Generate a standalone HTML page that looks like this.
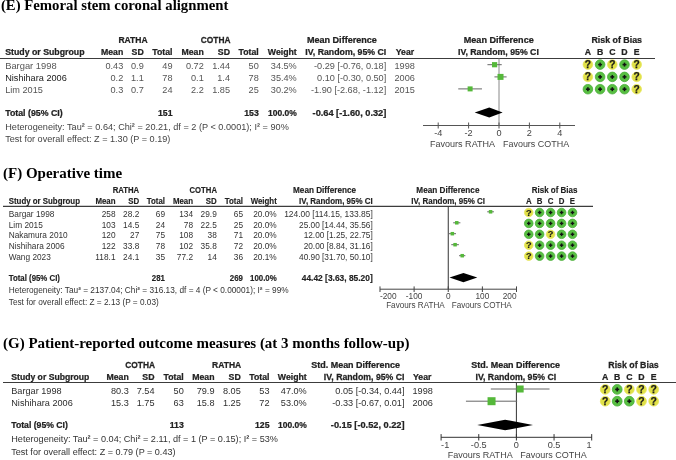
<!DOCTYPE html>
<html><head><meta charset="utf-8"><title>Forest plots</title>
<style>
html,body{margin:0;padding:0;background:#fff;}
body{width:676px;height:460px;overflow:hidden;}
svg{display:block;filter:blur(0.3px);}
</style></head><body>
<svg width="676" height="460" viewBox="0 0 676 460">
<rect width="676" height="460" fill="#fff"/>
<text x="0.90" y="9.80" font-family="Liberation Serif, serif" font-size="14.75" font-weight="bold" fill="#000">(E) Femoral stem coronal alignment</text>
<text transform="translate(133.00 43.10) scale(0.908 1)" font-family="Liberation Sans, sans-serif" font-size="9.4" font-weight="bold" stroke="#222" stroke-width="0.25" text-anchor="middle" fill="#222">RATHA</text>
<text transform="translate(215.60 43.10) scale(0.890 1)" font-family="Liberation Sans, sans-serif" font-size="9.4" font-weight="bold" stroke="#222" stroke-width="0.25" text-anchor="middle" fill="#222">COTHA</text>
<text transform="translate(341.90 43.10) scale(0.965 1)" font-family="Liberation Sans, sans-serif" font-size="9.4" font-weight="bold" stroke="#222" stroke-width="0.25" text-anchor="middle" fill="#222">Mean Difference</text>
<text transform="translate(498.75 43.10) scale(0.965 1)" font-family="Liberation Sans, sans-serif" font-size="9.4" font-weight="bold" stroke="#222" stroke-width="0.25" text-anchor="middle" fill="#222">Mean Difference</text>
<text transform="translate(5.20 55.30) scale(0.934 1)" font-family="Liberation Sans, sans-serif" font-size="9.4" font-weight="bold" stroke="#222" stroke-width="0.25" fill="#222">Study or Subgroup</text>
<text transform="translate(123.25 55.30) scale(0.930 1)" font-family="Liberation Sans, sans-serif" font-size="9.4" font-weight="bold" stroke="#222" stroke-width="0.25" text-anchor="end" fill="#222">Mean</text>
<text transform="translate(143.75 55.30) scale(0.930 1)" font-family="Liberation Sans, sans-serif" font-size="9.4" font-weight="bold" stroke="#222" stroke-width="0.25" text-anchor="end" fill="#222">SD</text>
<text transform="translate(172.50 55.30) scale(0.930 1)" font-family="Liberation Sans, sans-serif" font-size="9.4" font-weight="bold" stroke="#222" stroke-width="0.25" text-anchor="end" fill="#222">Total</text>
<text transform="translate(203.75 55.30) scale(0.930 1)" font-family="Liberation Sans, sans-serif" font-size="9.4" font-weight="bold" stroke="#222" stroke-width="0.25" text-anchor="end" fill="#222">Mean</text>
<text transform="translate(230.00 55.30) scale(0.930 1)" font-family="Liberation Sans, sans-serif" font-size="9.4" font-weight="bold" stroke="#222" stroke-width="0.25" text-anchor="end" fill="#222">SD</text>
<text transform="translate(258.75 55.30) scale(0.930 1)" font-family="Liberation Sans, sans-serif" font-size="9.4" font-weight="bold" stroke="#222" stroke-width="0.25" text-anchor="end" fill="#222">Total</text>
<text transform="translate(296.75 55.30) scale(0.930 1)" font-family="Liberation Sans, sans-serif" font-size="9.4" font-weight="bold" stroke="#222" stroke-width="0.25" text-anchor="end" fill="#222">Weight</text>
<text transform="translate(386.25 55.30) scale(0.932 1)" font-family="Liberation Sans, sans-serif" font-size="9.4" font-weight="bold" stroke="#222" stroke-width="0.25" text-anchor="end" fill="#222">IV, Random, 95% CI</text>
<text transform="translate(395.75 55.30) scale(0.930 1)" font-family="Liberation Sans, sans-serif" font-size="9.4" font-weight="bold" stroke="#222" stroke-width="0.25" fill="#222">Year</text>
<text transform="translate(498.40 55.30) scale(0.932 1)" font-family="Liberation Sans, sans-serif" font-size="9.4" font-weight="bold" stroke="#222" stroke-width="0.25" text-anchor="middle" fill="#222">IV, Random, 95% CI</text>
<line x1="0" y1="58.5" x2="655" y2="58.5" stroke="#3c3c3c" stroke-width="1.1"/>
<text transform="translate(5.20 69.10) scale(0.995 1)" font-family="Liberation Sans, sans-serif" font-size="9.4" fill="#555">Bargar 1998</text>
<text transform="translate(123.25 69.10) scale(0.975 1)" font-family="Liberation Sans, sans-serif" font-size="9.4" text-anchor="end" fill="#555">0.43</text>
<text transform="translate(143.75 69.10) scale(0.975 1)" font-family="Liberation Sans, sans-serif" font-size="9.4" text-anchor="end" fill="#555">0.9</text>
<text transform="translate(172.50 69.10) scale(0.975 1)" font-family="Liberation Sans, sans-serif" font-size="9.4" text-anchor="end" fill="#555">49</text>
<text transform="translate(203.75 69.10) scale(0.975 1)" font-family="Liberation Sans, sans-serif" font-size="9.4" text-anchor="end" fill="#555">0.72</text>
<text transform="translate(230.00 69.10) scale(0.975 1)" font-family="Liberation Sans, sans-serif" font-size="9.4" text-anchor="end" fill="#555">1.44</text>
<text transform="translate(258.75 69.10) scale(0.975 1)" font-family="Liberation Sans, sans-serif" font-size="9.4" text-anchor="end" fill="#555">50</text>
<text transform="translate(296.75 69.10) scale(0.975 1)" font-family="Liberation Sans, sans-serif" font-size="9.4" text-anchor="end" fill="#555">34.5%</text>
<text transform="translate(386.25 69.10) scale(0.975 1)" font-family="Liberation Sans, sans-serif" font-size="9.4" text-anchor="end" fill="#555">-0.29 [-0.76, 0.18]</text>
<text transform="translate(394.50 69.10) scale(0.975 1)" font-family="Liberation Sans, sans-serif" font-size="9.4" fill="#555">1998</text>
<text transform="translate(5.20 81.00) scale(0.975 1)" font-family="Liberation Sans, sans-serif" font-size="9.4" fill="#1a1a1a">Nishihara 2006</text>
<text transform="translate(123.25 81.00) scale(0.975 1)" font-family="Liberation Sans, sans-serif" font-size="9.4" text-anchor="end" fill="#555">0.2</text>
<text transform="translate(143.75 81.00) scale(0.975 1)" font-family="Liberation Sans, sans-serif" font-size="9.4" text-anchor="end" fill="#555">1.1</text>
<text transform="translate(172.50 81.00) scale(0.975 1)" font-family="Liberation Sans, sans-serif" font-size="9.4" text-anchor="end" fill="#555">78</text>
<text transform="translate(203.75 81.00) scale(0.975 1)" font-family="Liberation Sans, sans-serif" font-size="9.4" text-anchor="end" fill="#555">0.1</text>
<text transform="translate(230.00 81.00) scale(0.975 1)" font-family="Liberation Sans, sans-serif" font-size="9.4" text-anchor="end" fill="#555">1.4</text>
<text transform="translate(258.75 81.00) scale(0.975 1)" font-family="Liberation Sans, sans-serif" font-size="9.4" text-anchor="end" fill="#555">78</text>
<text transform="translate(296.75 81.00) scale(0.975 1)" font-family="Liberation Sans, sans-serif" font-size="9.4" text-anchor="end" fill="#555">35.4%</text>
<text transform="translate(386.25 81.00) scale(0.975 1)" font-family="Liberation Sans, sans-serif" font-size="9.4" text-anchor="end" fill="#555">0.10 [-0.30, 0.50]</text>
<text transform="translate(394.50 81.00) scale(0.975 1)" font-family="Liberation Sans, sans-serif" font-size="9.4" fill="#555">2006</text>
<text transform="translate(5.20 93.10) scale(0.975 1)" font-family="Liberation Sans, sans-serif" font-size="9.4" fill="#555">Lim 2015</text>
<text transform="translate(123.25 93.10) scale(0.975 1)" font-family="Liberation Sans, sans-serif" font-size="9.4" text-anchor="end" fill="#555">0.3</text>
<text transform="translate(143.75 93.10) scale(0.975 1)" font-family="Liberation Sans, sans-serif" font-size="9.4" text-anchor="end" fill="#555">0.7</text>
<text transform="translate(172.50 93.10) scale(0.975 1)" font-family="Liberation Sans, sans-serif" font-size="9.4" text-anchor="end" fill="#555">24</text>
<text transform="translate(203.75 93.10) scale(0.975 1)" font-family="Liberation Sans, sans-serif" font-size="9.4" text-anchor="end" fill="#555">2.2</text>
<text transform="translate(230.00 93.10) scale(0.975 1)" font-family="Liberation Sans, sans-serif" font-size="9.4" text-anchor="end" fill="#555">1.85</text>
<text transform="translate(258.75 93.10) scale(0.975 1)" font-family="Liberation Sans, sans-serif" font-size="9.4" text-anchor="end" fill="#555">25</text>
<text transform="translate(296.75 93.10) scale(0.975 1)" font-family="Liberation Sans, sans-serif" font-size="9.4" text-anchor="end" fill="#555">30.2%</text>
<text transform="translate(386.25 93.10) scale(0.975 1)" font-family="Liberation Sans, sans-serif" font-size="9.4" text-anchor="end" fill="#555">-1.90 [-2.68, -1.12]</text>
<text transform="translate(394.50 93.10) scale(0.975 1)" font-family="Liberation Sans, sans-serif" font-size="9.4" fill="#555">2015</text>
<text transform="translate(5.20 116.30) scale(0.936 1)" font-family="Liberation Sans, sans-serif" font-size="9.4" font-weight="bold" stroke="#222" stroke-width="0.25" fill="#222">Total (95% CI)</text>
<text transform="translate(172.50 116.30) scale(0.930 1)" font-family="Liberation Sans, sans-serif" font-size="9.4" font-weight="bold" stroke="#222" stroke-width="0.25" text-anchor="end" fill="#222">151</text>
<text transform="translate(258.75 116.30) scale(0.930 1)" font-family="Liberation Sans, sans-serif" font-size="9.4" font-weight="bold" stroke="#222" stroke-width="0.25" text-anchor="end" fill="#222">153</text>
<text transform="translate(296.75 116.30) scale(0.902 1)" font-family="Liberation Sans, sans-serif" font-size="9.4" font-weight="bold" stroke="#222" stroke-width="0.25" text-anchor="end" fill="#222">100.0%</text>
<text transform="translate(386.25 116.30) scale(0.980 1)" font-family="Liberation Sans, sans-serif" font-size="9.4" font-weight="bold" stroke="#222" stroke-width="0.25" text-anchor="end" fill="#222">-0.64 [-1.60, 0.32]</text>
<text transform="translate(5.20 130.00) scale(0.974 1)" font-family="Liberation Sans, sans-serif" font-size="9.4" fill="#444">Heterogeneity: Tau<tspan font-weight="bold">²</tspan> = 0.64; Chi<tspan font-weight="bold">²</tspan> = 20.21, df = 2 (P &lt; 0.0001); I<tspan font-weight="bold">²</tspan> = 90%</text>
<text transform="translate(5.20 142.00) scale(0.969 1)" font-family="Liberation Sans, sans-serif" font-size="9.4" fill="#444">Test for overall effect: Z = 1.30 (P = 0.19)</text>
<line x1="423.0" y1="125.5" x2="575.0" y2="125.5" stroke="#555" stroke-width="1"/>
<line x1="499.0" y1="58.5" x2="499.0" y2="125.5" stroke="#888" stroke-width="1"/>
<line x1="438.2" y1="122.5" x2="438.2" y2="128.5" stroke="#555" stroke-width="1"/>
<text transform="translate(438.20 135.60) scale(0.975 1)" font-family="Liberation Sans, sans-serif" font-size="9.4" text-anchor="middle" fill="#444">-4</text>
<line x1="468.6" y1="122.5" x2="468.6" y2="128.5" stroke="#555" stroke-width="1"/>
<text transform="translate(468.60 135.60) scale(0.975 1)" font-family="Liberation Sans, sans-serif" font-size="9.4" text-anchor="middle" fill="#444">-2</text>
<line x1="499.0" y1="122.5" x2="499.0" y2="128.5" stroke="#555" stroke-width="1"/>
<text transform="translate(499.00 135.60) scale(0.975 1)" font-family="Liberation Sans, sans-serif" font-size="9.4" text-anchor="middle" fill="#444">0</text>
<line x1="529.4" y1="122.5" x2="529.4" y2="128.5" stroke="#555" stroke-width="1"/>
<text transform="translate(529.40 135.60) scale(0.975 1)" font-family="Liberation Sans, sans-serif" font-size="9.4" text-anchor="middle" fill="#444">2</text>
<line x1="559.8" y1="122.5" x2="559.8" y2="128.5" stroke="#555" stroke-width="1"/>
<text transform="translate(559.80 135.60) scale(0.975 1)" font-family="Liberation Sans, sans-serif" font-size="9.4" text-anchor="middle" fill="#444">4</text>
<text transform="translate(495.00 146.80) scale(0.960 1)" font-family="Liberation Sans, sans-serif" font-size="9.4" text-anchor="end" fill="#444">Favours RATHA</text>
<text transform="translate(503.00 146.80) scale(0.953 1)" font-family="Liberation Sans, sans-serif" font-size="9.4" fill="#444">Favours COTHA</text>
<line x1="487.448" y1="64.7" x2="501.736" y2="64.7" stroke="#666" stroke-width="1"/>
<rect x="491.99" y="62.10" width="5.2" height="5.2" fill="#55b83a"/>
<line x1="494.44" y1="76.9" x2="506.6" y2="76.9" stroke="#666" stroke-width="1"/>
<rect x="497.52" y="73.90" width="6" height="6" fill="#55b83a"/>
<line x1="458.264" y1="88.9" x2="481.976" y2="88.9" stroke="#666" stroke-width="1"/>
<rect x="467.62" y="86.40" width="5" height="5" fill="#55b83a"/>
<polygon points="474.68,112.4 489.27,107.4 502.65,112.4 489.27,117.4" fill="#000"/>
<text transform="translate(616.70 43.10) scale(0.940 1)" font-family="Liberation Sans, sans-serif" font-size="9.4" font-weight="bold" stroke="#222" stroke-width="0.25" text-anchor="middle" fill="#222">Risk of Bias</text>
<text transform="translate(587.90 55.30) scale(0.930 1)" font-family="Liberation Sans, sans-serif" font-size="9.4" font-weight="bold" stroke="#222" stroke-width="0.25" text-anchor="middle" fill="#222">A</text>
<text transform="translate(600.10 55.30) scale(0.930 1)" font-family="Liberation Sans, sans-serif" font-size="9.4" font-weight="bold" stroke="#222" stroke-width="0.25" text-anchor="middle" fill="#222">B</text>
<text transform="translate(612.30 55.30) scale(0.930 1)" font-family="Liberation Sans, sans-serif" font-size="9.4" font-weight="bold" stroke="#222" stroke-width="0.25" text-anchor="middle" fill="#222">C</text>
<text transform="translate(624.50 55.30) scale(0.930 1)" font-family="Liberation Sans, sans-serif" font-size="9.4" font-weight="bold" stroke="#222" stroke-width="0.25" text-anchor="middle" fill="#222">D</text>
<text transform="translate(636.70 55.30) scale(0.930 1)" font-family="Liberation Sans, sans-serif" font-size="9.4" font-weight="bold" stroke="#222" stroke-width="0.25" text-anchor="middle" fill="#222">E</text>
<circle cx="587.9" cy="64.6" r="4.80" fill="#e1e147" stroke="#e6e660" stroke-width="0.8"/>
<text x="587.90" y="68.11" font-family="Liberation Sans, sans-serif" font-size="10.19" font-weight="bold" stroke="#1a1a1a" stroke-width="0.25" text-anchor="middle" fill="#1a1a1a">?</text>
<circle cx="600.1" cy="64.6" r="4.80" fill="#58bf42" stroke="#4aad3a" stroke-width="0.8"/>
<rect x="598.12" y="63.82" width="3.95" height="1.56" fill="#111"/>
<rect x="599.32" y="62.62" width="1.56" height="3.95" fill="#111"/>
<circle cx="612.3" cy="64.6" r="4.80" fill="#e1e147" stroke="#e6e660" stroke-width="0.8"/>
<text x="612.30" y="68.11" font-family="Liberation Sans, sans-serif" font-size="10.19" font-weight="bold" stroke="#1a1a1a" stroke-width="0.25" text-anchor="middle" fill="#1a1a1a">?</text>
<circle cx="624.5" cy="64.6" r="4.80" fill="#58bf42" stroke="#4aad3a" stroke-width="0.8"/>
<rect x="622.52" y="63.82" width="3.95" height="1.56" fill="#111"/>
<rect x="623.72" y="62.62" width="1.56" height="3.95" fill="#111"/>
<circle cx="636.7" cy="64.6" r="4.80" fill="#e1e147" stroke="#e6e660" stroke-width="0.8"/>
<text x="636.70" y="68.11" font-family="Liberation Sans, sans-serif" font-size="10.19" font-weight="bold" stroke="#1a1a1a" stroke-width="0.25" text-anchor="middle" fill="#1a1a1a">?</text>
<circle cx="587.9" cy="76.9" r="4.80" fill="#e1e147" stroke="#e6e660" stroke-width="0.8"/>
<text x="587.90" y="80.41" font-family="Liberation Sans, sans-serif" font-size="10.19" font-weight="bold" stroke="#1a1a1a" stroke-width="0.25" text-anchor="middle" fill="#1a1a1a">?</text>
<circle cx="600.1" cy="76.9" r="4.80" fill="#58bf42" stroke="#4aad3a" stroke-width="0.8"/>
<rect x="598.12" y="76.12" width="3.95" height="1.56" fill="#111"/>
<rect x="599.32" y="74.92" width="1.56" height="3.95" fill="#111"/>
<circle cx="612.3" cy="76.9" r="4.80" fill="#58bf42" stroke="#4aad3a" stroke-width="0.8"/>
<rect x="610.32" y="76.12" width="3.95" height="1.56" fill="#111"/>
<rect x="611.52" y="74.92" width="1.56" height="3.95" fill="#111"/>
<circle cx="624.5" cy="76.9" r="4.80" fill="#58bf42" stroke="#4aad3a" stroke-width="0.8"/>
<rect x="622.52" y="76.12" width="3.95" height="1.56" fill="#111"/>
<rect x="623.72" y="74.92" width="1.56" height="3.95" fill="#111"/>
<circle cx="636.7" cy="76.9" r="4.80" fill="#e1e147" stroke="#e6e660" stroke-width="0.8"/>
<text x="636.70" y="80.41" font-family="Liberation Sans, sans-serif" font-size="10.19" font-weight="bold" stroke="#1a1a1a" stroke-width="0.25" text-anchor="middle" fill="#1a1a1a">?</text>
<circle cx="587.9" cy="89.2" r="4.80" fill="#58bf42" stroke="#4aad3a" stroke-width="0.8"/>
<rect x="585.92" y="88.42" width="3.95" height="1.56" fill="#111"/>
<rect x="587.12" y="87.22" width="1.56" height="3.95" fill="#111"/>
<circle cx="600.1" cy="89.2" r="4.80" fill="#58bf42" stroke="#4aad3a" stroke-width="0.8"/>
<rect x="598.12" y="88.42" width="3.95" height="1.56" fill="#111"/>
<rect x="599.32" y="87.22" width="1.56" height="3.95" fill="#111"/>
<circle cx="612.3" cy="89.2" r="4.80" fill="#58bf42" stroke="#4aad3a" stroke-width="0.8"/>
<rect x="610.32" y="88.42" width="3.95" height="1.56" fill="#111"/>
<rect x="611.52" y="87.22" width="1.56" height="3.95" fill="#111"/>
<circle cx="624.5" cy="89.2" r="4.80" fill="#58bf42" stroke="#4aad3a" stroke-width="0.8"/>
<rect x="622.52" y="88.42" width="3.95" height="1.56" fill="#111"/>
<rect x="623.72" y="87.22" width="1.56" height="3.95" fill="#111"/>
<circle cx="636.7" cy="89.2" r="4.80" fill="#e1e147" stroke="#e6e660" stroke-width="0.8"/>
<text x="636.70" y="92.71" font-family="Liberation Sans, sans-serif" font-size="10.19" font-weight="bold" stroke="#1a1a1a" stroke-width="0.25" text-anchor="middle" fill="#1a1a1a">?</text>
<text x="3.00" y="177.50" font-family="Liberation Serif, serif" font-size="15" font-weight="bold" fill="#000">(F) Operative time</text>
<text transform="translate(125.90 192.50) scale(0.900 1)" font-family="Liberation Sans, sans-serif" font-size="8.6" font-weight="bold" stroke="#222" stroke-width="0.15" text-anchor="middle" fill="#222">RATHA</text>
<text transform="translate(203.25 192.50) scale(0.899 1)" font-family="Liberation Sans, sans-serif" font-size="8.6" font-weight="bold" stroke="#222" stroke-width="0.15" text-anchor="middle" fill="#222">COTHA</text>
<text transform="translate(324.60 192.50) scale(0.952 1)" font-family="Liberation Sans, sans-serif" font-size="8.6" font-weight="bold" stroke="#222" stroke-width="0.15" text-anchor="middle" fill="#222">Mean Difference</text>
<text transform="translate(447.90 192.50) scale(0.952 1)" font-family="Liberation Sans, sans-serif" font-size="8.6" font-weight="bold" stroke="#222" stroke-width="0.15" text-anchor="middle" fill="#222">Mean Difference</text>
<text transform="translate(8.75 203.75) scale(0.915 1)" font-family="Liberation Sans, sans-serif" font-size="8.6" font-weight="bold" stroke="#222" stroke-width="0.15" fill="#222">Study or Subgroup</text>
<text transform="translate(115.50 203.75) scale(0.915 1)" font-family="Liberation Sans, sans-serif" font-size="8.6" font-weight="bold" stroke="#222" stroke-width="0.15" text-anchor="end" fill="#222">Mean</text>
<text transform="translate(139.25 203.75) scale(0.915 1)" font-family="Liberation Sans, sans-serif" font-size="8.6" font-weight="bold" stroke="#222" stroke-width="0.15" text-anchor="end" fill="#222">SD</text>
<text transform="translate(165.00 203.75) scale(0.915 1)" font-family="Liberation Sans, sans-serif" font-size="8.6" font-weight="bold" stroke="#222" stroke-width="0.15" text-anchor="end" fill="#222">Total</text>
<text transform="translate(193.00 203.75) scale(0.915 1)" font-family="Liberation Sans, sans-serif" font-size="8.6" font-weight="bold" stroke="#222" stroke-width="0.15" text-anchor="end" fill="#222">Mean</text>
<text transform="translate(216.75 203.75) scale(0.915 1)" font-family="Liberation Sans, sans-serif" font-size="8.6" font-weight="bold" stroke="#222" stroke-width="0.15" text-anchor="end" fill="#222">SD</text>
<text transform="translate(243.00 203.75) scale(0.915 1)" font-family="Liberation Sans, sans-serif" font-size="8.6" font-weight="bold" stroke="#222" stroke-width="0.15" text-anchor="end" fill="#222">Total</text>
<text transform="translate(276.75 203.75) scale(0.915 1)" font-family="Liberation Sans, sans-serif" font-size="8.6" font-weight="bold" stroke="#222" stroke-width="0.15" text-anchor="end" fill="#222">Weight</text>
<text transform="translate(372.75 203.75) scale(0.928 1)" font-family="Liberation Sans, sans-serif" font-size="8.6" font-weight="bold" stroke="#222" stroke-width="0.15" text-anchor="end" fill="#222">IV, Random, 95% CI</text>
<text transform="translate(448.10 203.75) scale(0.928 1)" font-family="Liberation Sans, sans-serif" font-size="8.6" font-weight="bold" stroke="#222" stroke-width="0.15" text-anchor="middle" fill="#222">IV, Random, 95% CI</text>
<line x1="3" y1="206.4" x2="593" y2="206.4" stroke="#3c3c3c" stroke-width="1.1"/>
<text transform="translate(8.75 216.60) scale(0.965 1)" font-family="Liberation Sans, sans-serif" font-size="8.6" fill="#333">Bargar 1998</text>
<text transform="translate(115.50 216.60) scale(0.965 1)" font-family="Liberation Sans, sans-serif" font-size="8.6" text-anchor="end" fill="#333">258</text>
<text transform="translate(139.25 216.60) scale(0.965 1)" font-family="Liberation Sans, sans-serif" font-size="8.6" text-anchor="end" fill="#333">28.2</text>
<text transform="translate(165.00 216.60) scale(0.965 1)" font-family="Liberation Sans, sans-serif" font-size="8.6" text-anchor="end" fill="#333">69</text>
<text transform="translate(193.00 216.60) scale(0.965 1)" font-family="Liberation Sans, sans-serif" font-size="8.6" text-anchor="end" fill="#333">134</text>
<text transform="translate(216.75 216.60) scale(0.965 1)" font-family="Liberation Sans, sans-serif" font-size="8.6" text-anchor="end" fill="#333">29.9</text>
<text transform="translate(243.00 216.60) scale(0.965 1)" font-family="Liberation Sans, sans-serif" font-size="8.6" text-anchor="end" fill="#333">65</text>
<text transform="translate(276.75 216.60) scale(0.965 1)" font-family="Liberation Sans, sans-serif" font-size="8.6" text-anchor="end" fill="#333">20.0%</text>
<text transform="translate(372.75 216.60) scale(0.984 1)" font-family="Liberation Sans, sans-serif" font-size="8.6" text-anchor="end" fill="#333">124.00 [114.15, 133.85]</text>
<text transform="translate(8.75 227.50) scale(0.965 1)" font-family="Liberation Sans, sans-serif" font-size="8.6" fill="#333">Lim 2015</text>
<text transform="translate(115.50 227.50) scale(0.965 1)" font-family="Liberation Sans, sans-serif" font-size="8.6" text-anchor="end" fill="#333">103</text>
<text transform="translate(139.25 227.50) scale(0.965 1)" font-family="Liberation Sans, sans-serif" font-size="8.6" text-anchor="end" fill="#333">14.5</text>
<text transform="translate(165.00 227.50) scale(0.965 1)" font-family="Liberation Sans, sans-serif" font-size="8.6" text-anchor="end" fill="#333">24</text>
<text transform="translate(193.00 227.50) scale(0.965 1)" font-family="Liberation Sans, sans-serif" font-size="8.6" text-anchor="end" fill="#333">78</text>
<text transform="translate(216.75 227.50) scale(0.965 1)" font-family="Liberation Sans, sans-serif" font-size="8.6" text-anchor="end" fill="#333">22.5</text>
<text transform="translate(243.00 227.50) scale(0.965 1)" font-family="Liberation Sans, sans-serif" font-size="8.6" text-anchor="end" fill="#333">25</text>
<text transform="translate(276.75 227.50) scale(0.965 1)" font-family="Liberation Sans, sans-serif" font-size="8.6" text-anchor="end" fill="#333">20.0%</text>
<text transform="translate(372.75 227.50) scale(0.965 1)" font-family="Liberation Sans, sans-serif" font-size="8.6" text-anchor="end" fill="#333">25.00 [14.44, 35.56]</text>
<text transform="translate(8.75 238.40) scale(0.965 1)" font-family="Liberation Sans, sans-serif" font-size="8.6" fill="#333">Nakamura 2010</text>
<text transform="translate(115.50 238.40) scale(0.965 1)" font-family="Liberation Sans, sans-serif" font-size="8.6" text-anchor="end" fill="#333">120</text>
<text transform="translate(139.25 238.40) scale(0.965 1)" font-family="Liberation Sans, sans-serif" font-size="8.6" text-anchor="end" fill="#333">27</text>
<text transform="translate(165.00 238.40) scale(0.965 1)" font-family="Liberation Sans, sans-serif" font-size="8.6" text-anchor="end" fill="#333">75</text>
<text transform="translate(193.00 238.40) scale(0.965 1)" font-family="Liberation Sans, sans-serif" font-size="8.6" text-anchor="end" fill="#333">108</text>
<text transform="translate(216.75 238.40) scale(0.965 1)" font-family="Liberation Sans, sans-serif" font-size="8.6" text-anchor="end" fill="#333">38</text>
<text transform="translate(243.00 238.40) scale(0.965 1)" font-family="Liberation Sans, sans-serif" font-size="8.6" text-anchor="end" fill="#333">71</text>
<text transform="translate(276.75 238.40) scale(0.965 1)" font-family="Liberation Sans, sans-serif" font-size="8.6" text-anchor="end" fill="#333">20.0%</text>
<text transform="translate(372.75 238.40) scale(0.965 1)" font-family="Liberation Sans, sans-serif" font-size="8.6" text-anchor="end" fill="#333">12.00 [1.25, 22.75]</text>
<text transform="translate(8.75 249.30) scale(0.965 1)" font-family="Liberation Sans, sans-serif" font-size="8.6" fill="#333">Nishihara 2006</text>
<text transform="translate(115.50 249.30) scale(0.965 1)" font-family="Liberation Sans, sans-serif" font-size="8.6" text-anchor="end" fill="#333">122</text>
<text transform="translate(139.25 249.30) scale(0.965 1)" font-family="Liberation Sans, sans-serif" font-size="8.6" text-anchor="end" fill="#333">33.8</text>
<text transform="translate(165.00 249.30) scale(0.965 1)" font-family="Liberation Sans, sans-serif" font-size="8.6" text-anchor="end" fill="#333">78</text>
<text transform="translate(193.00 249.30) scale(0.965 1)" font-family="Liberation Sans, sans-serif" font-size="8.6" text-anchor="end" fill="#333">102</text>
<text transform="translate(216.75 249.30) scale(0.965 1)" font-family="Liberation Sans, sans-serif" font-size="8.6" text-anchor="end" fill="#333">35.8</text>
<text transform="translate(243.00 249.30) scale(0.965 1)" font-family="Liberation Sans, sans-serif" font-size="8.6" text-anchor="end" fill="#333">72</text>
<text transform="translate(276.75 249.30) scale(0.965 1)" font-family="Liberation Sans, sans-serif" font-size="8.6" text-anchor="end" fill="#333">20.0%</text>
<text transform="translate(372.75 249.30) scale(0.965 1)" font-family="Liberation Sans, sans-serif" font-size="8.6" text-anchor="end" fill="#333">20.00 [8.84, 31.16]</text>
<text transform="translate(8.75 260.20) scale(0.965 1)" font-family="Liberation Sans, sans-serif" font-size="8.6" fill="#333">Wang 2023</text>
<text transform="translate(115.50 260.20) scale(0.965 1)" font-family="Liberation Sans, sans-serif" font-size="8.6" text-anchor="end" fill="#333">118.1</text>
<text transform="translate(139.25 260.20) scale(0.965 1)" font-family="Liberation Sans, sans-serif" font-size="8.6" text-anchor="end" fill="#333">24.1</text>
<text transform="translate(165.00 260.20) scale(0.965 1)" font-family="Liberation Sans, sans-serif" font-size="8.6" text-anchor="end" fill="#333">35</text>
<text transform="translate(193.00 260.20) scale(0.965 1)" font-family="Liberation Sans, sans-serif" font-size="8.6" text-anchor="end" fill="#333">77.2</text>
<text transform="translate(216.75 260.20) scale(0.965 1)" font-family="Liberation Sans, sans-serif" font-size="8.6" text-anchor="end" fill="#333">14</text>
<text transform="translate(243.00 260.20) scale(0.965 1)" font-family="Liberation Sans, sans-serif" font-size="8.6" text-anchor="end" fill="#333">36</text>
<text transform="translate(276.75 260.20) scale(0.965 1)" font-family="Liberation Sans, sans-serif" font-size="8.6" text-anchor="end" fill="#333">20.1%</text>
<text transform="translate(372.75 260.20) scale(0.965 1)" font-family="Liberation Sans, sans-serif" font-size="8.6" text-anchor="end" fill="#333">40.90 [31.70, 50.10]</text>
<text transform="translate(8.75 280.50) scale(0.912 1)" font-family="Liberation Sans, sans-serif" font-size="8.6" font-weight="bold" stroke="#222" stroke-width="0.15" fill="#222">Total (95% CI)</text>
<text transform="translate(165.00 280.50) scale(0.915 1)" font-family="Liberation Sans, sans-serif" font-size="8.6" font-weight="bold" stroke="#222" stroke-width="0.15" text-anchor="end" fill="#222">281</text>
<text transform="translate(243.00 280.50) scale(0.915 1)" font-family="Liberation Sans, sans-serif" font-size="8.6" font-weight="bold" stroke="#222" stroke-width="0.15" text-anchor="end" fill="#222">269</text>
<text transform="translate(276.75 280.50) scale(0.917 1)" font-family="Liberation Sans, sans-serif" font-size="8.6" font-weight="bold" stroke="#222" stroke-width="0.15" text-anchor="end" fill="#222">100.0%</text>
<text transform="translate(372.75 280.50) scale(0.977 1)" font-family="Liberation Sans, sans-serif" font-size="8.6" font-weight="bold" stroke="#222" stroke-width="0.15" text-anchor="end" fill="#222">44.42 [3.63, 85.20]</text>
<text transform="translate(8.75 293.00) scale(0.964 1)" font-family="Liberation Sans, sans-serif" font-size="8.6" fill="#333">Heterogeneity: Tau<tspan font-weight="bold">²</tspan> = 2137.04; Chi<tspan font-weight="bold">²</tspan> = 316.13, df = 4 (P &lt; 0.00001); I<tspan font-weight="bold">²</tspan> = 99%</text>
<text transform="translate(8.75 305.00) scale(0.962 1)" font-family="Liberation Sans, sans-serif" font-size="8.6" fill="#333">Test for overall effect: Z = 2.13 (P = 0.03)</text>
<line x1="379.99" y1="289.2" x2="516.51" y2="289.2" stroke="#444" stroke-width="1"/>
<line x1="448.25" y1="206.4" x2="448.25" y2="289.2" stroke="#333" stroke-width="1"/>
<line x1="379.99" y1="286.4" x2="379.99" y2="292.0" stroke="#444" stroke-width="1"/>
<text transform="translate(379.99 298.75) scale(0.965 1)" font-family="Liberation Sans, sans-serif" font-size="8.6" fill="#444">-200</text>
<line x1="414.12" y1="286.4" x2="414.12" y2="292.0" stroke="#444" stroke-width="1"/>
<text transform="translate(414.12 298.75) scale(0.965 1)" font-family="Liberation Sans, sans-serif" font-size="8.6" text-anchor="middle" fill="#444">-100</text>
<line x1="448.25" y1="286.4" x2="448.25" y2="292.0" stroke="#444" stroke-width="1"/>
<text transform="translate(448.25 298.75) scale(0.965 1)" font-family="Liberation Sans, sans-serif" font-size="8.6" text-anchor="middle" fill="#444">0</text>
<line x1="482.38" y1="286.4" x2="482.38" y2="292.0" stroke="#444" stroke-width="1"/>
<text transform="translate(482.38 298.75) scale(0.965 1)" font-family="Liberation Sans, sans-serif" font-size="8.6" text-anchor="middle" fill="#444">100</text>
<line x1="516.51" y1="286.4" x2="516.51" y2="292.0" stroke="#444" stroke-width="1"/>
<text transform="translate(516.51 298.75) scale(0.965 1)" font-family="Liberation Sans, sans-serif" font-size="8.6" text-anchor="end" fill="#444">200</text>
<text transform="translate(444.75 307.50) scale(0.948 1)" font-family="Liberation Sans, sans-serif" font-size="8.6" text-anchor="end" fill="#444">Favours RATHA</text>
<text transform="translate(451.75 307.50) scale(0.944 1)" font-family="Liberation Sans, sans-serif" font-size="8.6" fill="#444">Favours COTHA</text>
<line x1="487.209395" y1="211.8" x2="493.933005" y2="211.8" stroke="#666" stroke-width="1"/>
<rect x="488.82" y="210.05" width="3.5" height="3.5" fill="#55b83a"/>
<line x1="453.178372" y1="222.8" x2="460.386628" y2="222.8" stroke="#666" stroke-width="1"/>
<rect x="455.03" y="221.05" width="3.5" height="3.5" fill="#55b83a"/>
<line x1="448.676625" y1="233.7" x2="456.014575" y2="233.7" stroke="#666" stroke-width="1"/>
<rect x="450.60" y="231.95" width="3.5" height="3.5" fill="#55b83a"/>
<line x1="451.267092" y1="244.7" x2="458.884908" y2="244.7" stroke="#666" stroke-width="1"/>
<rect x="453.33" y="242.95" width="3.5" height="3.5" fill="#55b83a"/>
<line x1="459.06921" y1="255.7" x2="465.34913" y2="255.7" stroke="#666" stroke-width="1"/>
<rect x="460.46" y="253.95" width="3.5" height="3.5" fill="#55b83a"/>
<polygon points="449.49,277.6 463.41,273.0 477.33,277.6 463.41,282.20000000000005" fill="#000"/>
<text transform="translate(554.60 192.50) scale(0.929 1)" font-family="Liberation Sans, sans-serif" font-size="8.6" font-weight="bold" stroke="#222" stroke-width="0.15" text-anchor="middle" fill="#222">Risk of Bias</text>
<text transform="translate(528.75 203.75) scale(0.915 1)" font-family="Liberation Sans, sans-serif" font-size="8.6" font-weight="bold" stroke="#222" stroke-width="0.15" text-anchor="middle" fill="#222">A</text>
<text transform="translate(539.60 203.75) scale(0.915 1)" font-family="Liberation Sans, sans-serif" font-size="8.6" font-weight="bold" stroke="#222" stroke-width="0.15" text-anchor="middle" fill="#222">B</text>
<text transform="translate(550.60 203.75) scale(0.915 1)" font-family="Liberation Sans, sans-serif" font-size="8.6" font-weight="bold" stroke="#222" stroke-width="0.15" text-anchor="middle" fill="#222">C</text>
<text transform="translate(561.60 203.75) scale(0.915 1)" font-family="Liberation Sans, sans-serif" font-size="8.6" font-weight="bold" stroke="#222" stroke-width="0.15" text-anchor="middle" fill="#222">D</text>
<text transform="translate(572.50 203.75) scale(0.915 1)" font-family="Liberation Sans, sans-serif" font-size="8.6" font-weight="bold" stroke="#222" stroke-width="0.15" text-anchor="middle" fill="#222">E</text>
<circle cx="528.75" cy="212.5" r="4.30" fill="#e1e147" stroke="#e6e660" stroke-width="0.8"/>
<text x="528.75" y="215.67" font-family="Liberation Sans, sans-serif" font-size="9.21" font-weight="bold" stroke="#1a1a1a" stroke-width="0.15" text-anchor="middle" fill="#1a1a1a">?</text>
<circle cx="539.6" cy="212.5" r="4.30" fill="#58bf42" stroke="#4aad3a" stroke-width="0.8"/>
<rect x="537.81" y="211.79" width="3.57" height="1.41" fill="#111"/>
<rect x="538.89" y="210.71" width="1.41" height="3.57" fill="#111"/>
<circle cx="550.6" cy="212.5" r="4.30" fill="#58bf42" stroke="#4aad3a" stroke-width="0.8"/>
<rect x="548.81" y="211.79" width="3.57" height="1.41" fill="#111"/>
<rect x="549.89" y="210.71" width="1.41" height="3.57" fill="#111"/>
<circle cx="561.6" cy="212.5" r="4.30" fill="#58bf42" stroke="#4aad3a" stroke-width="0.8"/>
<rect x="559.81" y="211.79" width="3.57" height="1.41" fill="#111"/>
<rect x="560.89" y="210.71" width="1.41" height="3.57" fill="#111"/>
<circle cx="572.5" cy="212.5" r="4.30" fill="#58bf42" stroke="#4aad3a" stroke-width="0.8"/>
<rect x="570.71" y="211.79" width="3.57" height="1.41" fill="#111"/>
<rect x="571.79" y="210.71" width="1.41" height="3.57" fill="#111"/>
<circle cx="528.75" cy="223.4" r="4.30" fill="#58bf42" stroke="#4aad3a" stroke-width="0.8"/>
<rect x="526.96" y="222.69" width="3.57" height="1.41" fill="#111"/>
<rect x="528.04" y="221.61" width="1.41" height="3.57" fill="#111"/>
<circle cx="539.6" cy="223.4" r="4.30" fill="#58bf42" stroke="#4aad3a" stroke-width="0.8"/>
<rect x="537.81" y="222.69" width="3.57" height="1.41" fill="#111"/>
<rect x="538.89" y="221.61" width="1.41" height="3.57" fill="#111"/>
<circle cx="550.6" cy="223.4" r="4.30" fill="#58bf42" stroke="#4aad3a" stroke-width="0.8"/>
<rect x="548.81" y="222.69" width="3.57" height="1.41" fill="#111"/>
<rect x="549.89" y="221.61" width="1.41" height="3.57" fill="#111"/>
<circle cx="561.6" cy="223.4" r="4.30" fill="#58bf42" stroke="#4aad3a" stroke-width="0.8"/>
<rect x="559.81" y="222.69" width="3.57" height="1.41" fill="#111"/>
<rect x="560.89" y="221.61" width="1.41" height="3.57" fill="#111"/>
<circle cx="572.5" cy="223.4" r="4.30" fill="#58bf42" stroke="#4aad3a" stroke-width="0.8"/>
<rect x="570.71" y="222.69" width="3.57" height="1.41" fill="#111"/>
<rect x="571.79" y="221.61" width="1.41" height="3.57" fill="#111"/>
<circle cx="528.75" cy="234.3" r="4.30" fill="#58bf42" stroke="#4aad3a" stroke-width="0.8"/>
<rect x="526.96" y="233.59" width="3.57" height="1.41" fill="#111"/>
<rect x="528.04" y="232.51" width="1.41" height="3.57" fill="#111"/>
<circle cx="539.6" cy="234.3" r="4.30" fill="#58bf42" stroke="#4aad3a" stroke-width="0.8"/>
<rect x="537.81" y="233.59" width="3.57" height="1.41" fill="#111"/>
<rect x="538.89" y="232.51" width="1.41" height="3.57" fill="#111"/>
<circle cx="550.6" cy="234.3" r="4.30" fill="#e1e147" stroke="#e6e660" stroke-width="0.8"/>
<text x="550.60" y="237.47" font-family="Liberation Sans, sans-serif" font-size="9.21" font-weight="bold" stroke="#1a1a1a" stroke-width="0.15" text-anchor="middle" fill="#1a1a1a">?</text>
<circle cx="561.6" cy="234.3" r="4.30" fill="#58bf42" stroke="#4aad3a" stroke-width="0.8"/>
<rect x="559.81" y="233.59" width="3.57" height="1.41" fill="#111"/>
<rect x="560.89" y="232.51" width="1.41" height="3.57" fill="#111"/>
<circle cx="572.5" cy="234.3" r="4.30" fill="#58bf42" stroke="#4aad3a" stroke-width="0.8"/>
<rect x="570.71" y="233.59" width="3.57" height="1.41" fill="#111"/>
<rect x="571.79" y="232.51" width="1.41" height="3.57" fill="#111"/>
<circle cx="528.75" cy="245.2" r="4.30" fill="#e1e147" stroke="#e6e660" stroke-width="0.8"/>
<text x="528.75" y="248.37" font-family="Liberation Sans, sans-serif" font-size="9.21" font-weight="bold" stroke="#1a1a1a" stroke-width="0.15" text-anchor="middle" fill="#1a1a1a">?</text>
<circle cx="539.6" cy="245.2" r="4.30" fill="#58bf42" stroke="#4aad3a" stroke-width="0.8"/>
<rect x="537.81" y="244.49" width="3.57" height="1.41" fill="#111"/>
<rect x="538.89" y="243.41" width="1.41" height="3.57" fill="#111"/>
<circle cx="550.6" cy="245.2" r="4.30" fill="#58bf42" stroke="#4aad3a" stroke-width="0.8"/>
<rect x="548.81" y="244.49" width="3.57" height="1.41" fill="#111"/>
<rect x="549.89" y="243.41" width="1.41" height="3.57" fill="#111"/>
<circle cx="561.6" cy="245.2" r="4.30" fill="#58bf42" stroke="#4aad3a" stroke-width="0.8"/>
<rect x="559.81" y="244.49" width="3.57" height="1.41" fill="#111"/>
<rect x="560.89" y="243.41" width="1.41" height="3.57" fill="#111"/>
<circle cx="572.5" cy="245.2" r="4.30" fill="#58bf42" stroke="#4aad3a" stroke-width="0.8"/>
<rect x="570.71" y="244.49" width="3.57" height="1.41" fill="#111"/>
<rect x="571.79" y="243.41" width="1.41" height="3.57" fill="#111"/>
<circle cx="528.75" cy="256.1" r="4.30" fill="#e1e147" stroke="#e6e660" stroke-width="0.8"/>
<text x="528.75" y="259.27" font-family="Liberation Sans, sans-serif" font-size="9.21" font-weight="bold" stroke="#1a1a1a" stroke-width="0.15" text-anchor="middle" fill="#1a1a1a">?</text>
<circle cx="539.6" cy="256.1" r="4.30" fill="#58bf42" stroke="#4aad3a" stroke-width="0.8"/>
<rect x="537.81" y="255.40" width="3.57" height="1.41" fill="#111"/>
<rect x="538.89" y="254.31" width="1.41" height="3.57" fill="#111"/>
<circle cx="550.6" cy="256.1" r="4.30" fill="#58bf42" stroke="#4aad3a" stroke-width="0.8"/>
<rect x="548.81" y="255.40" width="3.57" height="1.41" fill="#111"/>
<rect x="549.89" y="254.31" width="1.41" height="3.57" fill="#111"/>
<circle cx="561.6" cy="256.1" r="4.30" fill="#58bf42" stroke="#4aad3a" stroke-width="0.8"/>
<rect x="559.81" y="255.40" width="3.57" height="1.41" fill="#111"/>
<rect x="560.89" y="254.31" width="1.41" height="3.57" fill="#111"/>
<circle cx="572.5" cy="256.1" r="4.30" fill="#58bf42" stroke="#4aad3a" stroke-width="0.8"/>
<rect x="570.71" y="255.40" width="3.57" height="1.41" fill="#111"/>
<rect x="571.79" y="254.31" width="1.41" height="3.57" fill="#111"/>
<text x="3.00" y="348.00" font-family="Liberation Serif, serif" font-size="15" font-weight="bold" fill="#000">(G) Patient-reported outcome measures (at 3 months follow-up)</text>
<text transform="translate(140.10 367.60) scale(0.890 1)" font-family="Liberation Sans, sans-serif" font-size="9.4" font-weight="bold" stroke="#222" stroke-width="0.25" text-anchor="middle" fill="#222">COTHA</text>
<text transform="translate(226.60 367.60) scale(0.908 1)" font-family="Liberation Sans, sans-serif" font-size="9.4" font-weight="bold" stroke="#222" stroke-width="0.25" text-anchor="middle" fill="#222">RATHA</text>
<text transform="translate(355.60 367.60) scale(0.955 1)" font-family="Liberation Sans, sans-serif" font-size="9.4" font-weight="bold" stroke="#222" stroke-width="0.25" text-anchor="middle" fill="#222">Std. Mean Difference</text>
<text transform="translate(515.60 367.60) scale(0.955 1)" font-family="Liberation Sans, sans-serif" font-size="9.4" font-weight="bold" stroke="#222" stroke-width="0.25" text-anchor="middle" fill="#222">Std. Mean Difference</text>
<text transform="translate(11.25 380.00) scale(0.919 1)" font-family="Liberation Sans, sans-serif" font-size="9.4" font-weight="bold" stroke="#222" stroke-width="0.25" fill="#222">Study or Subgroup</text>
<text transform="translate(128.75 380.00) scale(0.930 1)" font-family="Liberation Sans, sans-serif" font-size="9.4" font-weight="bold" stroke="#222" stroke-width="0.25" text-anchor="end" fill="#222">Mean</text>
<text transform="translate(154.50 380.00) scale(0.930 1)" font-family="Liberation Sans, sans-serif" font-size="9.4" font-weight="bold" stroke="#222" stroke-width="0.25" text-anchor="end" fill="#222">SD</text>
<text transform="translate(183.75 380.00) scale(0.930 1)" font-family="Liberation Sans, sans-serif" font-size="9.4" font-weight="bold" stroke="#222" stroke-width="0.25" text-anchor="end" fill="#222">Total</text>
<text transform="translate(214.50 380.00) scale(0.930 1)" font-family="Liberation Sans, sans-serif" font-size="9.4" font-weight="bold" stroke="#222" stroke-width="0.25" text-anchor="end" fill="#222">Mean</text>
<text transform="translate(240.75 380.00) scale(0.930 1)" font-family="Liberation Sans, sans-serif" font-size="9.4" font-weight="bold" stroke="#222" stroke-width="0.25" text-anchor="end" fill="#222">SD</text>
<text transform="translate(269.50 380.00) scale(0.930 1)" font-family="Liberation Sans, sans-serif" font-size="9.4" font-weight="bold" stroke="#222" stroke-width="0.25" text-anchor="end" fill="#222">Total</text>
<text transform="translate(306.75 380.00) scale(0.930 1)" font-family="Liberation Sans, sans-serif" font-size="9.4" font-weight="bold" stroke="#222" stroke-width="0.25" text-anchor="end" fill="#222">Weight</text>
<text transform="translate(404.50 380.00) scale(0.929 1)" font-family="Liberation Sans, sans-serif" font-size="9.4" font-weight="bold" stroke="#222" stroke-width="0.25" text-anchor="end" fill="#222">IV, Random, 95% CI</text>
<text transform="translate(413.00 380.00) scale(0.930 1)" font-family="Liberation Sans, sans-serif" font-size="9.4" font-weight="bold" stroke="#222" stroke-width="0.25" fill="#222">Year</text>
<text transform="translate(515.90 380.00) scale(0.929 1)" font-family="Liberation Sans, sans-serif" font-size="9.4" font-weight="bold" stroke="#222" stroke-width="0.25" text-anchor="middle" fill="#222">IV, Random, 95% CI</text>
<line x1="3" y1="382.5" x2="676" y2="382.5" stroke="#3c3c3c" stroke-width="1.1"/>
<text transform="translate(11.25 394.00) scale(0.975 1)" font-family="Liberation Sans, sans-serif" font-size="9.4" fill="#2e2e2e">Bargar 1998</text>
<text transform="translate(128.75 394.00) scale(0.975 1)" font-family="Liberation Sans, sans-serif" font-size="9.4" text-anchor="end" fill="#2e2e2e">80.3</text>
<text transform="translate(154.50 394.00) scale(0.975 1)" font-family="Liberation Sans, sans-serif" font-size="9.4" text-anchor="end" fill="#2e2e2e">7.54</text>
<text transform="translate(183.75 394.00) scale(0.975 1)" font-family="Liberation Sans, sans-serif" font-size="9.4" text-anchor="end" fill="#2e2e2e">50</text>
<text transform="translate(214.50 394.00) scale(0.975 1)" font-family="Liberation Sans, sans-serif" font-size="9.4" text-anchor="end" fill="#2e2e2e">79.9</text>
<text transform="translate(240.75 394.00) scale(0.975 1)" font-family="Liberation Sans, sans-serif" font-size="9.4" text-anchor="end" fill="#2e2e2e">8.05</text>
<text transform="translate(269.50 394.00) scale(0.975 1)" font-family="Liberation Sans, sans-serif" font-size="9.4" text-anchor="end" fill="#2e2e2e">53</text>
<text transform="translate(306.75 394.00) scale(0.975 1)" font-family="Liberation Sans, sans-serif" font-size="9.4" text-anchor="end" fill="#2e2e2e">47.0%</text>
<text transform="translate(404.50 394.00) scale(0.975 1)" font-family="Liberation Sans, sans-serif" font-size="9.4" text-anchor="end" fill="#2e2e2e">0.05 [-0.34, 0.44]</text>
<text transform="translate(412.50 394.00) scale(0.975 1)" font-family="Liberation Sans, sans-serif" font-size="9.4" fill="#2e2e2e">1998</text>
<text transform="translate(11.25 405.60) scale(0.975 1)" font-family="Liberation Sans, sans-serif" font-size="9.4" fill="#2e2e2e">Nishihara 2006</text>
<text transform="translate(128.75 405.60) scale(0.975 1)" font-family="Liberation Sans, sans-serif" font-size="9.4" text-anchor="end" fill="#2e2e2e">15.3</text>
<text transform="translate(154.50 405.60) scale(0.975 1)" font-family="Liberation Sans, sans-serif" font-size="9.4" text-anchor="end" fill="#2e2e2e">1.75</text>
<text transform="translate(183.75 405.60) scale(0.975 1)" font-family="Liberation Sans, sans-serif" font-size="9.4" text-anchor="end" fill="#2e2e2e">63</text>
<text transform="translate(214.50 405.60) scale(0.975 1)" font-family="Liberation Sans, sans-serif" font-size="9.4" text-anchor="end" fill="#2e2e2e">15.8</text>
<text transform="translate(240.75 405.60) scale(0.975 1)" font-family="Liberation Sans, sans-serif" font-size="9.4" text-anchor="end" fill="#2e2e2e">1.25</text>
<text transform="translate(269.50 405.60) scale(0.975 1)" font-family="Liberation Sans, sans-serif" font-size="9.4" text-anchor="end" fill="#2e2e2e">72</text>
<text transform="translate(306.75 405.60) scale(0.975 1)" font-family="Liberation Sans, sans-serif" font-size="9.4" text-anchor="end" fill="#2e2e2e">53.0%</text>
<text transform="translate(404.50 405.60) scale(0.975 1)" font-family="Liberation Sans, sans-serif" font-size="9.4" text-anchor="end" fill="#2e2e2e">-0.33 [-0.67, 0.01]</text>
<text transform="translate(412.50 405.60) scale(0.975 1)" font-family="Liberation Sans, sans-serif" font-size="9.4" fill="#2e2e2e">2006</text>
<text transform="translate(11.25 428.00) scale(0.923 1)" font-family="Liberation Sans, sans-serif" font-size="9.4" font-weight="bold" stroke="#222" stroke-width="0.25" fill="#222">Total (95% CI)</text>
<text transform="translate(183.75 428.00) scale(0.930 1)" font-family="Liberation Sans, sans-serif" font-size="9.4" font-weight="bold" stroke="#222" stroke-width="0.25" text-anchor="end" fill="#222">113</text>
<text transform="translate(269.50 428.00) scale(0.930 1)" font-family="Liberation Sans, sans-serif" font-size="9.4" font-weight="bold" stroke="#222" stroke-width="0.25" text-anchor="end" fill="#222">125</text>
<text transform="translate(306.75 428.00) scale(0.902 1)" font-family="Liberation Sans, sans-serif" font-size="9.4" font-weight="bold" stroke="#222" stroke-width="0.25" text-anchor="end" fill="#222">100.0%</text>
<text transform="translate(404.50 428.00) scale(0.980 1)" font-family="Liberation Sans, sans-serif" font-size="9.4" font-weight="bold" stroke="#222" stroke-width="0.25" text-anchor="end" fill="#222">-0.15 [-0.52, 0.22]</text>
<text transform="translate(11.25 442.00) scale(0.970 1)" font-family="Liberation Sans, sans-serif" font-size="9.4" fill="#333">Heterogeneity: Tau<tspan font-weight="bold">²</tspan> = 0.04; Chi<tspan font-weight="bold">²</tspan> = 2.11, df = 1 (P = 0.15); I<tspan font-weight="bold">²</tspan> = 53%</text>
<text transform="translate(11.25 455.00) scale(0.965 1)" font-family="Liberation Sans, sans-serif" font-size="9.4" fill="#333">Test for overall effect: Z = 0.79 (P = 0.43)</text>
<line x1="441.09999999999997" y1="437.3" x2="591.6999999999999" y2="437.3" stroke="#333" stroke-width="1"/>
<line x1="516.4" y1="382.5" x2="516.4" y2="437.3" stroke="#333" stroke-width="1"/>
<line x1="441.09999999999997" y1="434.1" x2="441.09999999999997" y2="440.5" stroke="#333" stroke-width="1"/>
<text transform="translate(441.10 447.50) scale(0.975 1)" font-family="Liberation Sans, sans-serif" font-size="9.4" fill="#444">-1</text>
<line x1="478.75" y1="434.1" x2="478.75" y2="440.5" stroke="#333" stroke-width="1"/>
<text transform="translate(478.75 447.50) scale(0.975 1)" font-family="Liberation Sans, sans-serif" font-size="9.4" text-anchor="middle" fill="#444">-0.5</text>
<line x1="516.4" y1="434.1" x2="516.4" y2="440.5" stroke="#333" stroke-width="1"/>
<text transform="translate(516.40 447.50) scale(0.975 1)" font-family="Liberation Sans, sans-serif" font-size="9.4" text-anchor="middle" fill="#444">0</text>
<line x1="554.05" y1="434.1" x2="554.05" y2="440.5" stroke="#333" stroke-width="1"/>
<text transform="translate(554.05 447.50) scale(0.975 1)" font-family="Liberation Sans, sans-serif" font-size="9.4" text-anchor="middle" fill="#444">0.5</text>
<line x1="591.6999999999999" y1="434.1" x2="591.6999999999999" y2="440.5" stroke="#333" stroke-width="1"/>
<text transform="translate(591.70 447.50) scale(0.975 1)" font-family="Liberation Sans, sans-serif" font-size="9.4" text-anchor="end" fill="#444">1</text>
<text transform="translate(512.65 458.00) scale(0.960 1)" font-family="Liberation Sans, sans-serif" font-size="9.4" text-anchor="end" fill="#444">Favours RATHA</text>
<text transform="translate(520.15 458.00) scale(0.961 1)" font-family="Liberation Sans, sans-serif" font-size="9.4" fill="#444">Favours COTHA</text>
<line x1="490.798" y1="389.0" x2="549.5319999999999" y2="389.0" stroke="#666" stroke-width="1"/>
<rect x="516.66" y="385.50" width="7" height="7" fill="#55b83a"/>
<line x1="465.94899999999996" y1="401.2" x2="517.153" y2="401.2" stroke="#666" stroke-width="1"/>
<rect x="487.55" y="397.20" width="8" height="8" fill="#55b83a"/>
<polygon points="477.24,425 505.10,419.7 532.97,425 505.10,430.3" fill="#000"/>
<text transform="translate(633.50 367.60) scale(0.939 1)" font-family="Liberation Sans, sans-serif" font-size="9.4" font-weight="bold" stroke="#222" stroke-width="0.25" text-anchor="middle" fill="#222">Risk of Bias</text>
<text transform="translate(605.25 380.00) scale(0.930 1)" font-family="Liberation Sans, sans-serif" font-size="9.4" font-weight="bold" stroke="#222" stroke-width="0.25" text-anchor="middle" fill="#222">A</text>
<text transform="translate(617.20 380.00) scale(0.930 1)" font-family="Liberation Sans, sans-serif" font-size="9.4" font-weight="bold" stroke="#222" stroke-width="0.25" text-anchor="middle" fill="#222">B</text>
<text transform="translate(629.30 380.00) scale(0.930 1)" font-family="Liberation Sans, sans-serif" font-size="9.4" font-weight="bold" stroke="#222" stroke-width="0.25" text-anchor="middle" fill="#222">C</text>
<text transform="translate(641.50 380.00) scale(0.930 1)" font-family="Liberation Sans, sans-serif" font-size="9.4" font-weight="bold" stroke="#222" stroke-width="0.25" text-anchor="middle" fill="#222">D</text>
<text transform="translate(653.70 380.00) scale(0.930 1)" font-family="Liberation Sans, sans-serif" font-size="9.4" font-weight="bold" stroke="#222" stroke-width="0.25" text-anchor="middle" fill="#222">E</text>
<circle cx="605.25" cy="389.4" r="4.90" fill="#e1e147" stroke="#e6e660" stroke-width="0.8"/>
<text x="605.25" y="392.97" font-family="Liberation Sans, sans-serif" font-size="10.39" font-weight="bold" stroke="#1a1a1a" stroke-width="0.25" text-anchor="middle" fill="#1a1a1a">?</text>
<circle cx="617.2" cy="389.4" r="4.90" fill="#58bf42" stroke="#4aad3a" stroke-width="0.8"/>
<rect x="615.19" y="388.60" width="4.03" height="1.59" fill="#111"/>
<rect x="616.41" y="387.39" width="1.59" height="4.03" fill="#111"/>
<circle cx="629.3" cy="389.4" r="4.90" fill="#e1e147" stroke="#e6e660" stroke-width="0.8"/>
<text x="629.30" y="392.97" font-family="Liberation Sans, sans-serif" font-size="10.39" font-weight="bold" stroke="#1a1a1a" stroke-width="0.25" text-anchor="middle" fill="#1a1a1a">?</text>
<circle cx="641.5" cy="389.4" r="4.90" fill="#e1e147" stroke="#e6e660" stroke-width="0.8"/>
<text x="641.50" y="392.97" font-family="Liberation Sans, sans-serif" font-size="10.39" font-weight="bold" stroke="#1a1a1a" stroke-width="0.25" text-anchor="middle" fill="#1a1a1a">?</text>
<circle cx="653.7" cy="389.4" r="4.90" fill="#e1e147" stroke="#e6e660" stroke-width="0.8"/>
<text x="653.70" y="392.97" font-family="Liberation Sans, sans-serif" font-size="10.39" font-weight="bold" stroke="#1a1a1a" stroke-width="0.25" text-anchor="middle" fill="#1a1a1a">?</text>
<circle cx="605.25" cy="401.2" r="4.90" fill="#e1e147" stroke="#e6e660" stroke-width="0.8"/>
<text x="605.25" y="404.77" font-family="Liberation Sans, sans-serif" font-size="10.39" font-weight="bold" stroke="#1a1a1a" stroke-width="0.25" text-anchor="middle" fill="#1a1a1a">?</text>
<circle cx="617.2" cy="401.2" r="4.90" fill="#58bf42" stroke="#4aad3a" stroke-width="0.8"/>
<rect x="615.19" y="400.40" width="4.03" height="1.59" fill="#111"/>
<rect x="616.41" y="399.19" width="1.59" height="4.03" fill="#111"/>
<circle cx="629.3" cy="401.2" r="4.90" fill="#58bf42" stroke="#4aad3a" stroke-width="0.8"/>
<rect x="627.29" y="400.40" width="4.03" height="1.59" fill="#111"/>
<rect x="628.50" y="399.19" width="1.59" height="4.03" fill="#111"/>
<circle cx="641.5" cy="401.2" r="4.90" fill="#e1e147" stroke="#e6e660" stroke-width="0.8"/>
<text x="641.50" y="404.77" font-family="Liberation Sans, sans-serif" font-size="10.39" font-weight="bold" stroke="#1a1a1a" stroke-width="0.25" text-anchor="middle" fill="#1a1a1a">?</text>
<circle cx="653.7" cy="401.2" r="4.90" fill="#e1e147" stroke="#e6e660" stroke-width="0.8"/>
<text x="653.70" y="404.77" font-family="Liberation Sans, sans-serif" font-size="10.39" font-weight="bold" stroke="#1a1a1a" stroke-width="0.25" text-anchor="middle" fill="#1a1a1a">?</text>
</svg>
</body></html>
